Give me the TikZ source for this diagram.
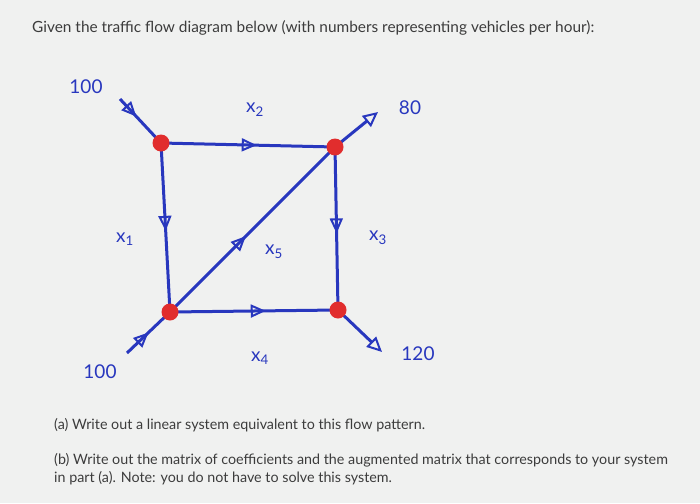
\documentclass[tikz,border=0pt]{standalone}
\usepackage{fontspec}
\setmainfont{Lato}
\usetikzlibrary{arrows.meta,decorations.markings}
\definecolor{pen}{RGB}{40,55,190}
\definecolor{dot}{RGB}{225,45,45}
\definecolor{paper}{RGB}{240,241,240}
\definecolor{ink}{RGB}{60,60,60}
\tikzset{
  road/.style={draw=pen, line width=3pt},
  flow/.style={road, postaction={decorate}, decoration={markings,
      mark=at position #1 with {\arrow[pen, line width=2pt]{Triangle[open,length=15pt,width=13pt]}}}},
  flow/.default=0.5,
  junc/.style={circle, fill=dot, inner sep=0pt, minimum size=17pt},
  hand/.style={text=pen, font=\fontsize{19}{19}\selectfont},
  txt/.style={anchor=west, inner sep=0pt, text=ink}
}
\begin{document}
\begin{tikzpicture}[x=1pt, y=-1pt]
  \fill[paper] (0,0) rectangle (700,503);
  \useasboundingbox (0,0) rectangle (700,503);
  \node[txt, font=\fontsize{15.4}{18}\selectfont] (q) at (32, 28) {Given the traffic flow diagram below (with numbers representing vehicles per hour):};
  % junctions
  \coordinate (a) at (161, 143);
  \coordinate (b) at (335, 147);
  \coordinate (c) at (170, 312);
  \coordinate (d) at (338, 310);
  \coordinate (inA) at (120, 99);
  \coordinate (outB) at (378, 112);
  \coordinate (inC) at (127, 353);
  \coordinate (outD) at (382, 352);
  % streets
  \draw[flow=0.55] (a) -- (b);
  \draw[flow=0.52] (a) -- (c);
  \draw[flow=0.53] (b) -- (d);
  \draw[flow=0.57] (c) -- (d);
  \draw[flow=0.46] (c) -- (b);
  \draw[flow=0.4] (inA) -- (a);
  \draw[flow=0.5] (inC) -- (c);
  \draw[road, -{Triangle[open,length=15pt,width=14pt,line width=2pt]}] (b) -- (outB);
  \draw[road, -{Triangle[open,length=15pt,width=14pt,line width=2pt]}] (d) -- (outD);
  \foreach \j in {a,b,c,d} \node[junc] at (\j) {};
  % labels
  \node[hand] (n1) at (86, 87) {100};
  \node[hand] (n2) at (100, 372) {100};
  \node[hand] (n3) at (410, 108) {80};
  \node[hand] (n4) at (418, 354) {120};
  \node[hand] (x1) at (125, 239) {x\textsubscript{1}};
  \node[hand] (x2) at (255, 110) {x\textsubscript{2}};
  \node[hand] (x3) at (378, 238) {x\textsubscript{3}};
  \node[hand] (x4) at (260, 358) {x\textsubscript{4}};
  \node[hand] (x5) at (274, 252) {x\textsubscript{5}};
  % questions
  \node[txt, font=\fontsize{14.3}{18}\selectfont] (pa) at (54, 425) {(a) Write out a linear system equivalent to this flow pattern.};
  \node[txt, font=\fontsize{14.3}{18}\selectfont] (pb) at (54, 460) {(b) Write out the matrix of coefficients and the augmented matrix that corresponds to your system};
  \node[txt, font=\fontsize{14.3}{18}\selectfont] (pc) at (54, 478) {in part (a). Note: you do not have to solve this system.};
\end{tikzpicture}
\end{document}
